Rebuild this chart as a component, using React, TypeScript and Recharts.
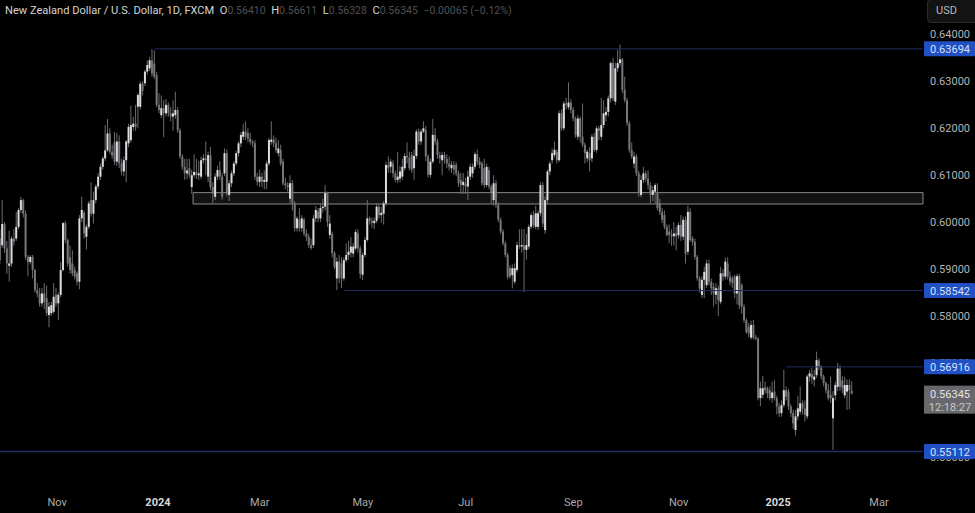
import { Bar, ComposedChart, ReferenceArea, ReferenceLine, XAxis, YAxis } from "recharts";

// daily NZDUSD candles, in units of 0.0001
const opens = [
  5965,5951,5996,5944,5907,5912,5965,5965,5990,6026,
  6047,6018,5926,5915,5926,5898,5855,5848,5827,5848,
  5838,5802,5806,5809,5845,5827,5845,5898,5998,5962,
  5925,5912,5898,5891,5873,6008,6020,5969,5990,6047,
  6018,6047,6076,6097,6118,6136,6153,6189,6150,6170,
  6129,6172,6125,6108,6132,6168,6175,6203,6210,6246,
  6246,6295,6296,6321,6328,6345,6338,6313,6250,6228,
  6243,6232,6250,6232,6225,6228,6239,6196,6140,6118,
  6104,6115,6075,6100,6107,6100,6097,6132,6136,6097,
  6143,6075,6054,6097,6111,6097,6104,6147,6058,6083,
  6104,6125,6147,6168,6182,6193,6190,6178,6171,6168,
  6097,6086,6097,6086,6086,6125,6171,6176,6168,6147,
  6154,6129,6083,6079,6050,6083,6040,5987,6005,5987,
  6005,5976,5969,5951,5951,6008,6023,6008,6030,6033,
  6062,5973,5975,5934,5880,5916,5912,5880,5919,5930,
  5935,5933,5944,5976,5944,5888,5930,5962,6008,6003,
  5998,6003,6033,6015,6018,6040,6122,6118,6125,6104,
  6090,6093,6097,6115,6141,6138,6143,6115,6141,6193,
  6172,6193,6196,6140,6101,6129,6186,6172,6143,6132,
  6143,6135,6125,6115,6122,6122,6104,6090,6079,6082,
  6076,6097,6104,6118,6145,6129,6125,6115,6079,6111,
  6076,6047,6083,6037,6005,5980,5955,5930,5902,5887,
  5873,5898,5951,5948,5951,5941,5948,5990,6015,5990,
  5990,6019,6079,5983,6047,6108,6132,6143,6150,6132,
  6232,6200,6253,6245,6255,6239,6221,6182,6221,6182,
  6165,6136,6147,6136,6182,6154,6200,6182,6207,6228,
  6235,6264,6339,6257,6328,6339,6347,6282,6260,6211,
  6154,6125,6140,6104,6058,6090,6104,6093,6079,6058,
  6065,6062,6040,6022,6015,5990,5980,5973,5970,5976,
  5972,5994,5969,6005,5937,6022,5965,5958,5926,5880,
  5845,5877,5866,5912,5873,5862,5845,5859,5830,5891,
  5884,5912,5884,5880,5884,5848,5885,5866,5820,5791,
  5777,5754,5781,5755,5752,5625,5632,5648,5646,5642,
  5625,5639,5625,5607,5593,5610,5642,5639,5607,5593,
  5557,5586,5596,5614,5603,5586,5671,5676,5664,5674,
  5705,5692,5671,5657,5642,5632,5582,5631,5649,5688,
  5663,5631,5639,5653,5641,
];
const highs = [
  5985,6047,6000,5960,5982,5970,5985,6022,6030,6054,
  6050,6025,5930,5930,5930,5900,5870,5860,5860,5870,
  5865,5830,5830,5870,5860,5850,5915,6000,6003,5965,
  5950,5940,5905,5895,6015,6054,6025,5995,6045,6085,
  6065,6080,6105,6125,6140,6207,6220,6200,6165,6192,
  6190,6185,6135,6140,6175,6210,6248,6225,6250,6275,
  6300,6300,6325,6345,6352,6369,6366,6320,6275,6270,
  6260,6262,6255,6245,6260,6278,6245,6200,6145,6135,
  6135,6135,6112,6145,6135,6130,6140,6145,6172,6150,
  6160,6085,6104,6120,6130,6105,6157,6155,6090,6110,
  6130,6152,6172,6192,6210,6215,6200,6190,6175,6175,
  6105,6112,6105,6110,6130,6180,6215,6185,6180,6175,
  6165,6135,6095,6085,6100,6090,6045,6012,6030,6015,
  6010,5985,5975,5965,6015,6035,6030,6040,6050,6079,
  6065,6015,5980,5938,5925,5930,5925,5925,5955,5960,
  5968,5955,5985,5985,5950,5935,5968,6047,6012,6010,
  6010,6040,6040,6033,6045,6128,6140,6135,6132,6110,
  6150,6120,6135,6147,6170,6150,6150,6155,6198,6200,
  6198,6215,6205,6145,6135,6220,6200,6178,6150,6150,
  6150,6145,6140,6130,6130,6128,6110,6105,6105,6095,
  6110,6125,6125,6150,6155,6138,6130,6135,6125,6118,
  6080,6100,6090,6042,6010,5985,5960,5935,5908,5910,
  5912,5958,5985,5985,5985,5975,5995,6020,6025,6035,
  6025,6085,6085,6055,6112,6130,6157,6172,6155,6238,
  6240,6258,6265,6298,6262,6245,6225,6228,6225,6253,
  6170,6155,6160,6188,6190,6205,6205,6265,6260,6245,
  6270,6342,6350,6340,6367,6378,6350,6310,6265,6215,
  6170,6150,6145,6110,6100,6118,6110,6110,6085,6077,
  6083,6083,6050,6030,6025,5995,5995,5985,6000,5990,
  6000,6015,6012,6012,6035,6030,5970,5965,5930,5885,
  5885,5905,5920,5920,5880,5870,5870,5865,5905,5900,
  5925,5925,5895,5885,5888,5890,5890,5870,5825,5795,
  5785,5790,5792,5760,5755,5660,5672,5660,5650,5650,
  5660,5663,5630,5615,5620,5685,5650,5645,5612,5600,
  5600,5630,5650,5620,5620,5675,5685,5690,5685,5724,
  5710,5695,5675,5660,5655,5671,5640,5660,5700,5695,
  5672,5670,5665,5665,5661,
];
const lows = [
  5910,5945,5935,5890,5873,5905,5950,5960,5985,6020,
  6010,5920,5885,5910,5880,5850,5840,5820,5820,5815,
  5800,5776,5800,5805,5820,5792,5840,5895,5955,5905,
  5890,5885,5878,5865,5857,6000,5965,5942,5985,6012,
  5997,6040,6070,6090,6112,6130,6150,6145,6135,6122,
  6120,6115,6100,6098,6085,6160,6170,6195,6195,6200,
  6240,6270,6290,6315,6322,6310,6305,6245,6232,6222,
  6181,6225,6225,6215,6195,6220,6190,6135,6112,6090,
  6092,6095,6060,6095,6092,6090,6092,6125,6100,6085,
  6068,6040,6047,6090,6090,6048,6098,6055,6045,6075,
  6098,6120,6140,6160,6175,6175,6170,6165,6160,6090,
  6078,6075,6075,6070,6070,6120,6165,6160,6148,6140,
  6120,6078,6070,6065,6040,6025,5980,5980,5980,5980,
  5970,5960,5945,5941,5945,6000,6000,6000,6020,6025,
  5990,5965,5925,5900,5855,5870,5860,5875,5915,5920,
  5925,5925,5940,5935,5880,5877,5925,5958,5995,5988,
  5985,5998,6008,5999,5995,6035,6105,6105,6095,6085,
  6083,6085,6090,6110,6125,6110,6105,6090,6135,6165,
  6165,6190,6130,6095,6095,6125,6165,6135,6125,6100,
  6125,6115,6110,6105,6100,6098,6075,6060,6060,6060,
  6047,6090,6095,6112,6122,6115,6078,6072,6075,6070,
  6040,6035,6030,6000,5975,5950,5925,5878,5880,5859,
  5868,5893,5943,5935,5851,5920,5942,5985,5988,5985,
  5983,6012,5990,5975,6040,6100,6125,6138,6125,6128,
  6195,6195,6240,6240,6232,6215,6180,6175,6170,6160,
  6125,6128,6108,6128,6150,6148,6175,6175,6200,6215,
  6225,6255,6258,6250,6320,6332,6275,6255,6205,6148,
  6135,6115,6098,6054,6053,6083,6085,6070,6040,6045,
  6040,6025,6015,5998,5985,5970,5955,5950,5950,5940,
  5965,5960,5962,5912,5930,5958,5950,5920,5875,5850,
  5838,5838,5860,5865,5845,5820,5825,5800,5825,5875,
  5878,5878,5865,5860,5838,5825,5815,5805,5785,5762,
  5755,5750,5750,5748,5620,5608,5625,5635,5625,5620,
  5615,5620,5590,5585,5585,5605,5620,5600,5585,5560,
  5545,5578,5590,5590,5575,5580,5660,5655,5650,5668,
  5685,5665,5650,5635,5620,5615,5515,5620,5640,5640,
  5636,5625,5600,5601,5633,
];
const closes = [
  5919,5996,5944,5912,5912,5965,5958,5990,6026,6047,
  6018,5926,5915,5926,5898,5855,5848,5827,5848,5830,
  5806,5820,5823,5841,5827,5845,5898,5998,5962,5912,
  5898,5891,5884,5873,6008,6026,5976,5990,6040,6018,
  6047,6076,6097,6118,6136,6153,6189,6150,6142,6129,
  6172,6125,6108,6132,6172,6203,6207,6210,6203,6271,
  6295,6280,6321,6335,6345,6317,6310,6250,6239,6243,
  6232,6250,6232,6225,6232,6239,6196,6140,6118,6104,
  6110,6100,6100,6107,6100,6104,6132,6136,6132,6143,
  6075,6061,6097,6111,6097,6054,6147,6061,6083,6104,
  6125,6147,6168,6186,6193,6182,6178,6171,6168,6097,
  6086,6097,6086,6090,6125,6175,6176,6168,6154,6157,
  6125,6083,6079,6075,6083,6040,5987,6008,5987,6008,
  5976,5969,5951,5945,6008,6026,6008,6030,6033,6062,
  6000,5997,5934,5905,5916,5880,5880,5919,5930,5937,
  5948,5948,5979,5944,5890,5930,5962,6008,6003,5998,
  6003,6033,6015,6020,6040,6122,6115,6129,6104,6090,
  6097,6108,6118,6141,6138,6115,6111,6141,6193,6172,
  6193,6200,6140,6101,6129,6186,6172,6143,6136,6143,
  6135,6125,6118,6122,6112,6104,6083,6079,6086,6076,
  6097,6118,6118,6145,6129,6122,6083,6079,6118,6076,
  6062,6083,6037,6005,5980,5955,5930,5884,5884,5902,
  5902,5951,5948,5951,5941,5951,5990,6015,5994,6019,
  6019,6079,5997,6047,6108,6125,6147,6154,6132,6232,
  6200,6253,6250,6255,6239,6221,6186,6221,6182,6165,
  6147,6150,6132,6182,6154,6200,6195,6207,6232,6235,
  6264,6339,6264,6328,6339,6347,6282,6260,6211,6154,
  6140,6140,6104,6062,6090,6104,6093,6079,6058,6068,
  6079,6030,6022,6005,5990,5972,5973,5970,5976,5970,
  5994,5969,6005,5933,6022,5962,5958,5926,5880,5859,
  5877,5894,5912,5873,5859,5848,5859,5834,5891,5884,
  5916,5884,5873,5870,5848,5885,5823,5820,5791,5766,
  5763,5781,5754,5752,5625,5646,5646,5642,5635,5625,
  5637,5625,5607,5593,5610,5642,5628,5607,5593,5571,
  5586,5603,5614,5603,5589,5671,5678,5667,5671,5706,
  5692,5671,5657,5642,5625,5625,5625,5653,5688,5649,
  5646,5653,5653,5642,5634.5,
];

const priceTicks = [0.64, 0.63, 0.62, 0.61, 0.6, 0.59, 0.58, 0.57, 0.55];
const levels = [0.63694, 0.58542, 0.56916, 0.55112];
const levelStarts = [66, 147, 336, 0]; // bar index where each level starts
const lastPrice = 0.56345;
const countdown = "12:18:27";
const zone = [0.60387, 0.60629];
const zoneStart = 82.5;

const monthTicks = [24.4, 67.5, 111, 155, 199, 245, 290, 332.5, 375.6];
const monthLabels = ["Nov", "2024", "Mar", "May", "Jul", "Sep", "Nov", "2025", "Mar"];

const W = 975;
const H = 513;
const SLOTS = 394.4; // bar slots across the plot, the right side stays empty
const rows = opens.map((o, i) => ({
  i,
  open: o / 10000,
  high: highs[i] / 10000,
  low: lows[i] / 10000,
  close: closes[i] / 10000,
}));

const LINE = "#232c63";
const BLUE = "#2050c4";

function Candle(props: any) {
  const { x, y, width, height, payload: d } = props;
  const cx = x + width / 2;
  const k = height / (d.high - d.low); // px per price unit
  const top = y + (d.high - Math.max(d.open, d.close)) * k;
  const h = Math.max(Math.abs(d.open - d.close) * k, 0.8);
  const up = d.close >= d.open;
  return (
    <g>
      <rect x={cx - 0.5} y={y} width={1} height={height} fill="#6c6c70" />
      <rect x={cx - 1} y={top} width={2} height={h} fill={up ? "#dcdce0" : "#77777b"} />
    </g>
  );
}

function PriceTick({ x, y, payload }: any) {
  const v = payload.value;
  const text = v.toFixed(5);
  const mid = x + 27;
  if (levels.includes(v)) {
    return (
      <g>
        <rect x={x + 1} y={y - 7.5} width={51} height={15} rx={1} fill={BLUE} />
        <text x={mid} y={y + 4} textAnchor="middle" fontSize={11} fill="#d8e2f8">{text}</text>
      </g>
    );
  }
  if (v === lastPrice) {
    return (
      <g>
        <rect x={x + 1} y={y - 8} width={51} height={28} fill="#68686c" />
        <text x={mid} y={y + 4} textAnchor="middle" fontSize={11} fill="#e4e4e4">{text}</text>
        <text x={mid} y={y + 17} textAnchor="middle" fontSize={11} fill="#c8c8c8">{countdown}</text>
      </g>
    );
  }
  return <text x={mid} y={y + 4} textAnchor="middle" fontSize={11} fill="#b4b4b4">{text}</text>;
}

function MonthTick({ x, y, payload }: any) {
  const label = monthLabels[monthTicks.indexOf(payload.value)];
  const isYear = label.length === 4;
  return (
    <text x={x} y={y + 9} textAnchor="middle" fontSize={11} fontWeight={isYear ? 700 : 400}
      fill={isYear ? "#d8d8d8" : "#aaaaaa"}>
      {label}
    </text>
  );
}

const dim = { color: "#505054", fontSize: 10.5 };

export default function App() {
  return (
    <div style={{ position: "absolute", left: 0, top: 0, width: W, height: H, background: "#000", overflow: "hidden",
      fontFamily: "Roboto, sans-serif" }}>
      <ComposedChart width={W} height={H} data={rows} margin={{ top: 0, right: 0, bottom: 0, left: 0 }}
        style={{ fontFamily: "Roboto, sans-serif" }}>
        <XAxis dataKey="i" type="number" domain={[0, SLOTS]} ticks={monthTicks} interval={0} height={24}
          axisLine={false} tickLine={false} tick={<MonthTick />} />
        <YAxis orientation="right" type="number" width={52} domain={[0.54313, 0.64735]}
          ticks={[...priceTicks, ...levels, lastPrice]} interval={0} tickSize={0} tickMargin={0}
          axisLine={false} tickLine={false} tick={<PriceTick />} />
        {/* translucent so the candles stay readable through the zone */}
        <ReferenceArea x1={zoneStart} x2={SLOTS} y1={zone[0]} y2={zone[1]} fill="#ffffff" fillOpacity={0.07}
          stroke="#8a8a8a" strokeWidth={1} />
        {levels.map((v, n) => (
          <ReferenceLine key={v} stroke={LINE} strokeWidth={v === 0.55112 ? 1.6 : 1}
            segment={[{ x: levelStarts[n], y: v }, { x: SLOTS, y: v }]} />
        ))}
        <Bar dataKey={(d: any) => [d.low, d.high]} barSize={2} shape={<Candle />} isAnimationActive={false} />
      </ComposedChart>

      <div style={{ position: "absolute", left: 5, top: 3, fontSize: 11.1, lineHeight: "15px", color: "#d4d4d4", whiteSpace: "pre" }}>
        New Zealand Dollar / U.S. Dollar, 1D, FXCM{"  "}O<span style={dim}>0.56410</span>{"  "}H<span style={dim}>0.56611</span>
        {"  "}L<span style={dim}>0.56328</span>{"  "}C<span style={dim}>0.56345</span>{"  "}<span style={dim}>−0.00065 (−0.12%)</span>
      </div>
      <div style={{ position: "absolute", left: 927, top: -1, width: 52, height: 22, background: "#131313", border: "1px solid #2a2a2a",
        borderRadius: 4, fontSize: 11, lineHeight: "22px", color: "#b8b8b8", textIndent: 8 }}>
        USD
      </div>
    </div>
  );
}
